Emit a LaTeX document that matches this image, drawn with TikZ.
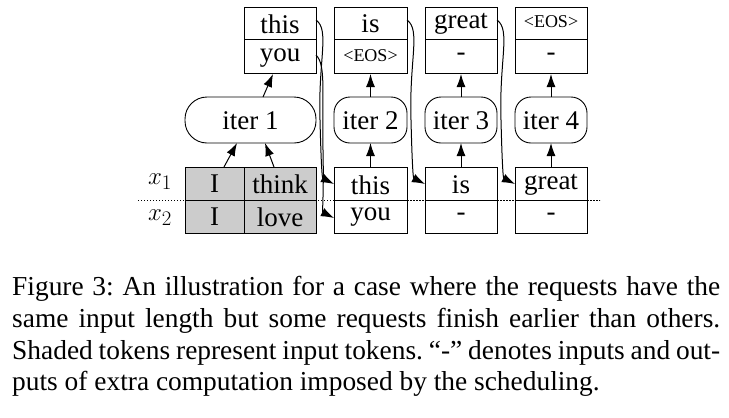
\documentclass[tikz,border=0pt]{standalone}
\usepackage{fontspec}
\setmainfont{Liberation Serif}
\usetikzlibrary{arrows.meta}
\begin{document}
\begin{tikzpicture}[x=1pt,y=-1pt,
  box/.style={draw,line width=0.9pt,fill=white},
  gbox/.style={draw,line width=0.9pt,fill=gray!40},
  txt/.style={font=\fontsize{27}{29}\selectfont,inner sep=0pt},
  stxt/.style={font=\fontsize{18}{20}\selectfont,inner sep=0pt},
  arr/.style={-{Latex[length=13pt,width=9pt]},line width=1pt},
  it/.style={draw,line width=0.9pt,rounded corners=22pt,inner sep=0pt}]
\useasboundingbox (0,0) rectangle (729,418);
% dotted line
\draw[dotted,line width=1pt] (138,200) -- (600,200);
% top boxes
\foreach \n/\a/\b in {1/244/316,2/334/407,3/425/497,4/515/587}{
  \draw[box] (\a,7) rectangle (\b,73);
  \draw[line width=0.9pt] (\a,39) -- (\b,39);
  \coordinate (t\n) at ({(\a+\b)/2},73);
  \coordinate (tr\n) at (\b,20);
  \coordinate (trb\n) at (\b,55);
}
\node[txt] (o1a) at (280,24) {this};
\node[txt] (o1b) at (280,58) {you};
\node[txt] (o2a) at (370.5,24) {is};
\node[stxt] (o2b) at (370.5,56) {<EOS>};
\node[txt] (o3a) at (461,24) {great};
\node[txt] (o3b) at (461,57) {-};
\node[stxt] (o4a) at (551,22) {<EOS>};
\node[txt] (o4b) at (551,57) {-};
% iter nodes
\draw[it] (185,97) rectangle (316,143);
\node[txt] (i1) at (250.5,121) {iter 1};
\foreach \n/\a/\b in {2/334/407,3/425/497,4/515/587}{
  \draw[line width=0.9pt,rounded corners=16pt] (\a,97) rectangle (\b,143);
  \node[txt] (i\n) at ({(\a+\b)/2},121) {iter \n};
}
% bottom
\draw[gbox] (185,167) rectangle (316,233);
\draw[line width=0.9pt] (185,200) -- (316,200) (244,167) -- (244,233);
\node[txt] (b1) at (214.5,184) {I};
\node[txt] (b2) at (280,184) {think};
\node[txt] (b3) at (214.5,217) {I};
\node[txt] (b4) at (280,217) {love};
\foreach \n/\a/\b in {2/334/407,3/425/497,4/515/587}{
  \draw[box] (\a,167) rectangle (\b,233);
  \draw[line width=0.9pt] (\a,200) -- (\b,200);
  \coordinate (bl\n) at (\a,184);
  \coordinate (blb\n) at (\a,218);
}
\draw[dotted,line width=1pt] (407,200) -- (425,200) (497,200) -- (515,200) (587,200) -- (600,200);
\node[txt] (c2a) at (370.5,185) {this};
\node[txt] (c2b) at (370.5,217) {you};
\node[txt] (c3a) at (461,185) {is};
\node[txt] (c3b) at (461,217) {-};
\node[txt] (c4a) at (551,185) {great};
\node[txt] (c4b) at (551,217) {-};
\node[font=\fontsize{32}{34}\selectfont] (x1) at (160,182) {$x_1$};
\node[font=\fontsize{32}{34}\selectfont] (x2) at (160,218) {$x_2$};
% arrows
\coordinate (a1s) at (224,167); \coordinate (a1e) at (237,143);
\coordinate (a2s) at (274,167); \coordinate (a2e) at (265,143);
\coordinate (a3s) at (263,97); \coordinate (a3e) at (273,74);
\draw[arr] (a1s) -- (a1e);
\draw[arr] (a2s) -- (a2e);
\draw[arr] (a3s) -- (a3e);
\foreach \n/\x in {2/370.5,3/461,4/551}{
  \coordinate (u\n) at (\x,167); \coordinate (v\n) at (\x,143);
  \coordinate (p\n) at (\x,97); \coordinate (q\n) at (\x,74);
  \draw[arr] (u\n) -- (v\n);
  \draw[arr] (p\n) -- (q\n);
}
% curved arrows
\draw[arr] (tr1) .. controls (330,30) and (318,60) .. (320,120) .. controls (321,160) and (322,178) .. (bl2);
\draw[arr] (trb1) .. controls (326,65) and (322,90) .. (323,150) .. controls (324,195) and (322,212) .. (blb2);
\draw[arr] (tr2) .. controls (421,30) and (409,60) .. (411,120) .. controls (412,160) and (413,178) .. (bl3);
\draw[arr] (tr3) .. controls (511,30) and (499,60) .. (501,120) .. controls (502,160) and (503,178) .. (bl4);
% caption
\node[anchor=north west,inner sep=0pt,text width=708pt,align=justify,
  font=\fontsize{27.4}{31.8}\selectfont] (cap) at (12,276)
  {\frenchspacing Figure 3: An illustration for a case where the requests have the same input length but some requests finish earlier than others. Shaded tokens represent input tokens. ``-'' denotes inputs and outputs of extra computation imposed by the scheduling.};
\end{tikzpicture}
\end{document}
